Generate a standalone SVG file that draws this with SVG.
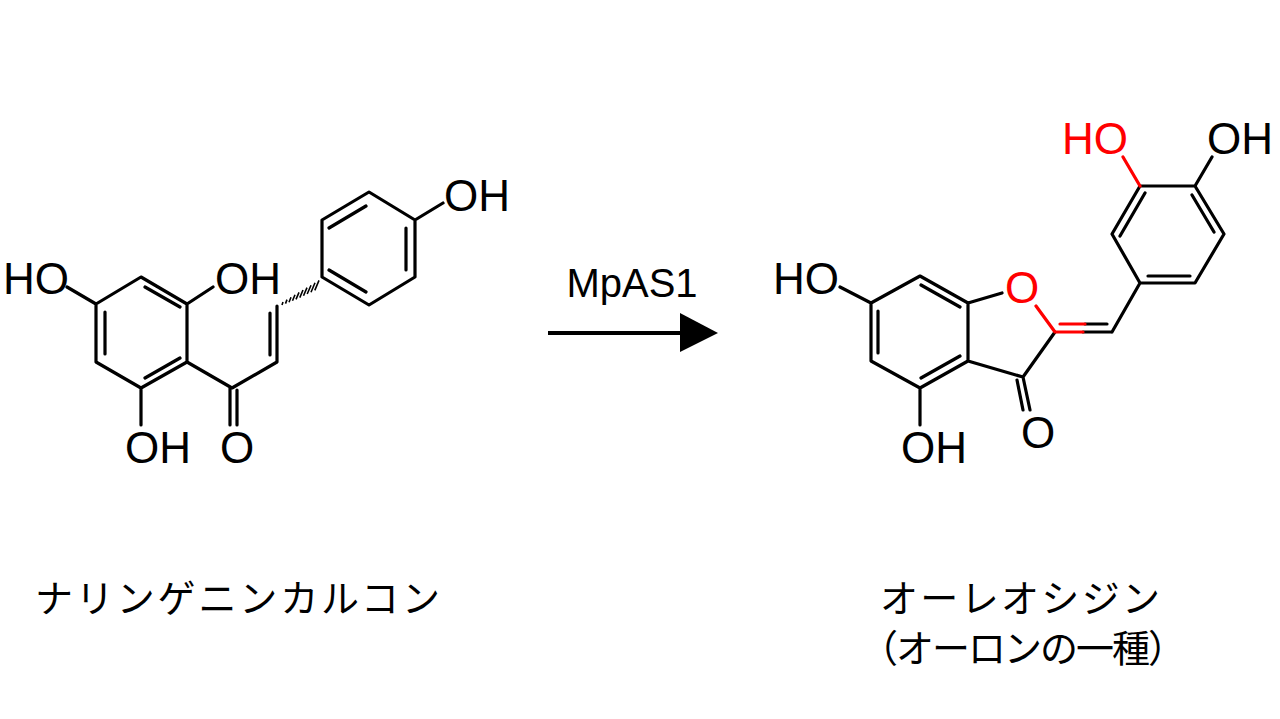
<svg xmlns="http://www.w3.org/2000/svg" width="1280" height="719" viewBox="0 0 1280 719">
<style>
.b{stroke:#000;stroke-width:3.2;fill:none;stroke-linecap:round;stroke-linejoin:round}
.r{stroke:#f00}
.t{font-family:"Liberation Sans",Arial,sans-serif;font-size:44px;fill:#000}
.red{fill:#f00}
.j{font-family:"Noto Sans CJK JP",sans-serif;font-size:38px;fill:#000}
</style>
<rect width="1280" height="719" fill="#fff"/>
<g id="chalcone">
<path class="b" d="M96,304 L141,277 L187,304 L187,362 L141,388 L96,362 Z M105,312 L105,354 M145,287 L180,307 M145,378 L180,358 M96,304 L67,287 M187,304 L213,287 M141,388 L141,425 M187,362 L232,388 L277,362 L277,306 M270,355 L270,313 M230,388 L230,425 M237,390 L237,425"/>
<path class="b" d="M322,277 L322,220 L369,192 L415,220 L415,277 L369,305 Z M329,228 L366,206 M406,228 L406,270 M329,270 L366,292 M415,220 L443,203"/>
<path stroke="#000" stroke-width="1.6" d="M283,302 l-1,3 M287,299.6 l-1.5,4 M291,297.2 l-2,5 M295,294.8 l-2.5,6 M299,292.4 l-3,7 M303,290 l-3.2,7.6 M307,287.6 l-3.5,8.2 M311,285.2 l-3.8,8.8 M315,282.8 l-4,9.4 M319,280.4 l-4.2,10"/>
<text class="t" x="3" y="294">HO</text>
<text class="t" x="215" y="294">OH</text>
<text class="t" x="125" y="463">OH</text>
<text class="t" x="220" y="463">O</text>
<text class="t" x="444" y="211">OH</text>
</g>
<g id="arrow">
<line x1="548" y1="333" x2="685" y2="333" stroke="#000" stroke-width="4"/>
<polygon points="680,313 718,333 680,352" fill="#000"/>
<text x="632" y="297" text-anchor="middle" font-family="Liberation Sans,Arial,sans-serif" font-size="40">MpAS1</text>
</g>
<g id="aureusidin">
<path class="b" d="M871,303 L920,276 L968,303 L968,361 L920,388 L871,361 Z M878,311 L878,353 M921,285 L960,307 M921,378 L960,356 M871,303 L840,287 M920,388 L920,425 M968,303 L1002,293 M968,361 L1023,377 L1055,332 M1023,377 L1030,410 M1017,380 L1023,410 M1112,332 L1140,283 M1140,283 L1195,283 L1224,234 L1195,186 L1140,186 L1112,234 Z M1145,193 L1120,236 M1192,195 L1214,232 M1148,276 L1190,276 M1195,186 L1212,157 M1083,332 L1112,332 M1085,324 L1107,324"/>
<path class="b r" d="M1036,306 L1055,332 L1083,332 M1060,324 L1085,324 M1140,186 L1123,157"/>
<text class="t" x="773" y="294">HO</text>
<text class="t" x="901" y="463">OH</text>
<text class="t red" x="1022" y="303" text-anchor="middle">O</text>
<text class="t" x="1038" y="448" text-anchor="middle">O</text>
<text class="t red" x="1062" y="154">HO</text>
<text class="t" x="1207" y="154">OH</text>
</g>
<g id="labels">
<text class="j" x="35" y="612" textLength="405">ナリンゲニンカルコン</text>
<text class="j" x="880" y="612" textLength="280">オーレオシジン</text>
<text class="j" x="860" y="662" textLength="326">（オーロンの一種）</text>
</g>
</svg>
